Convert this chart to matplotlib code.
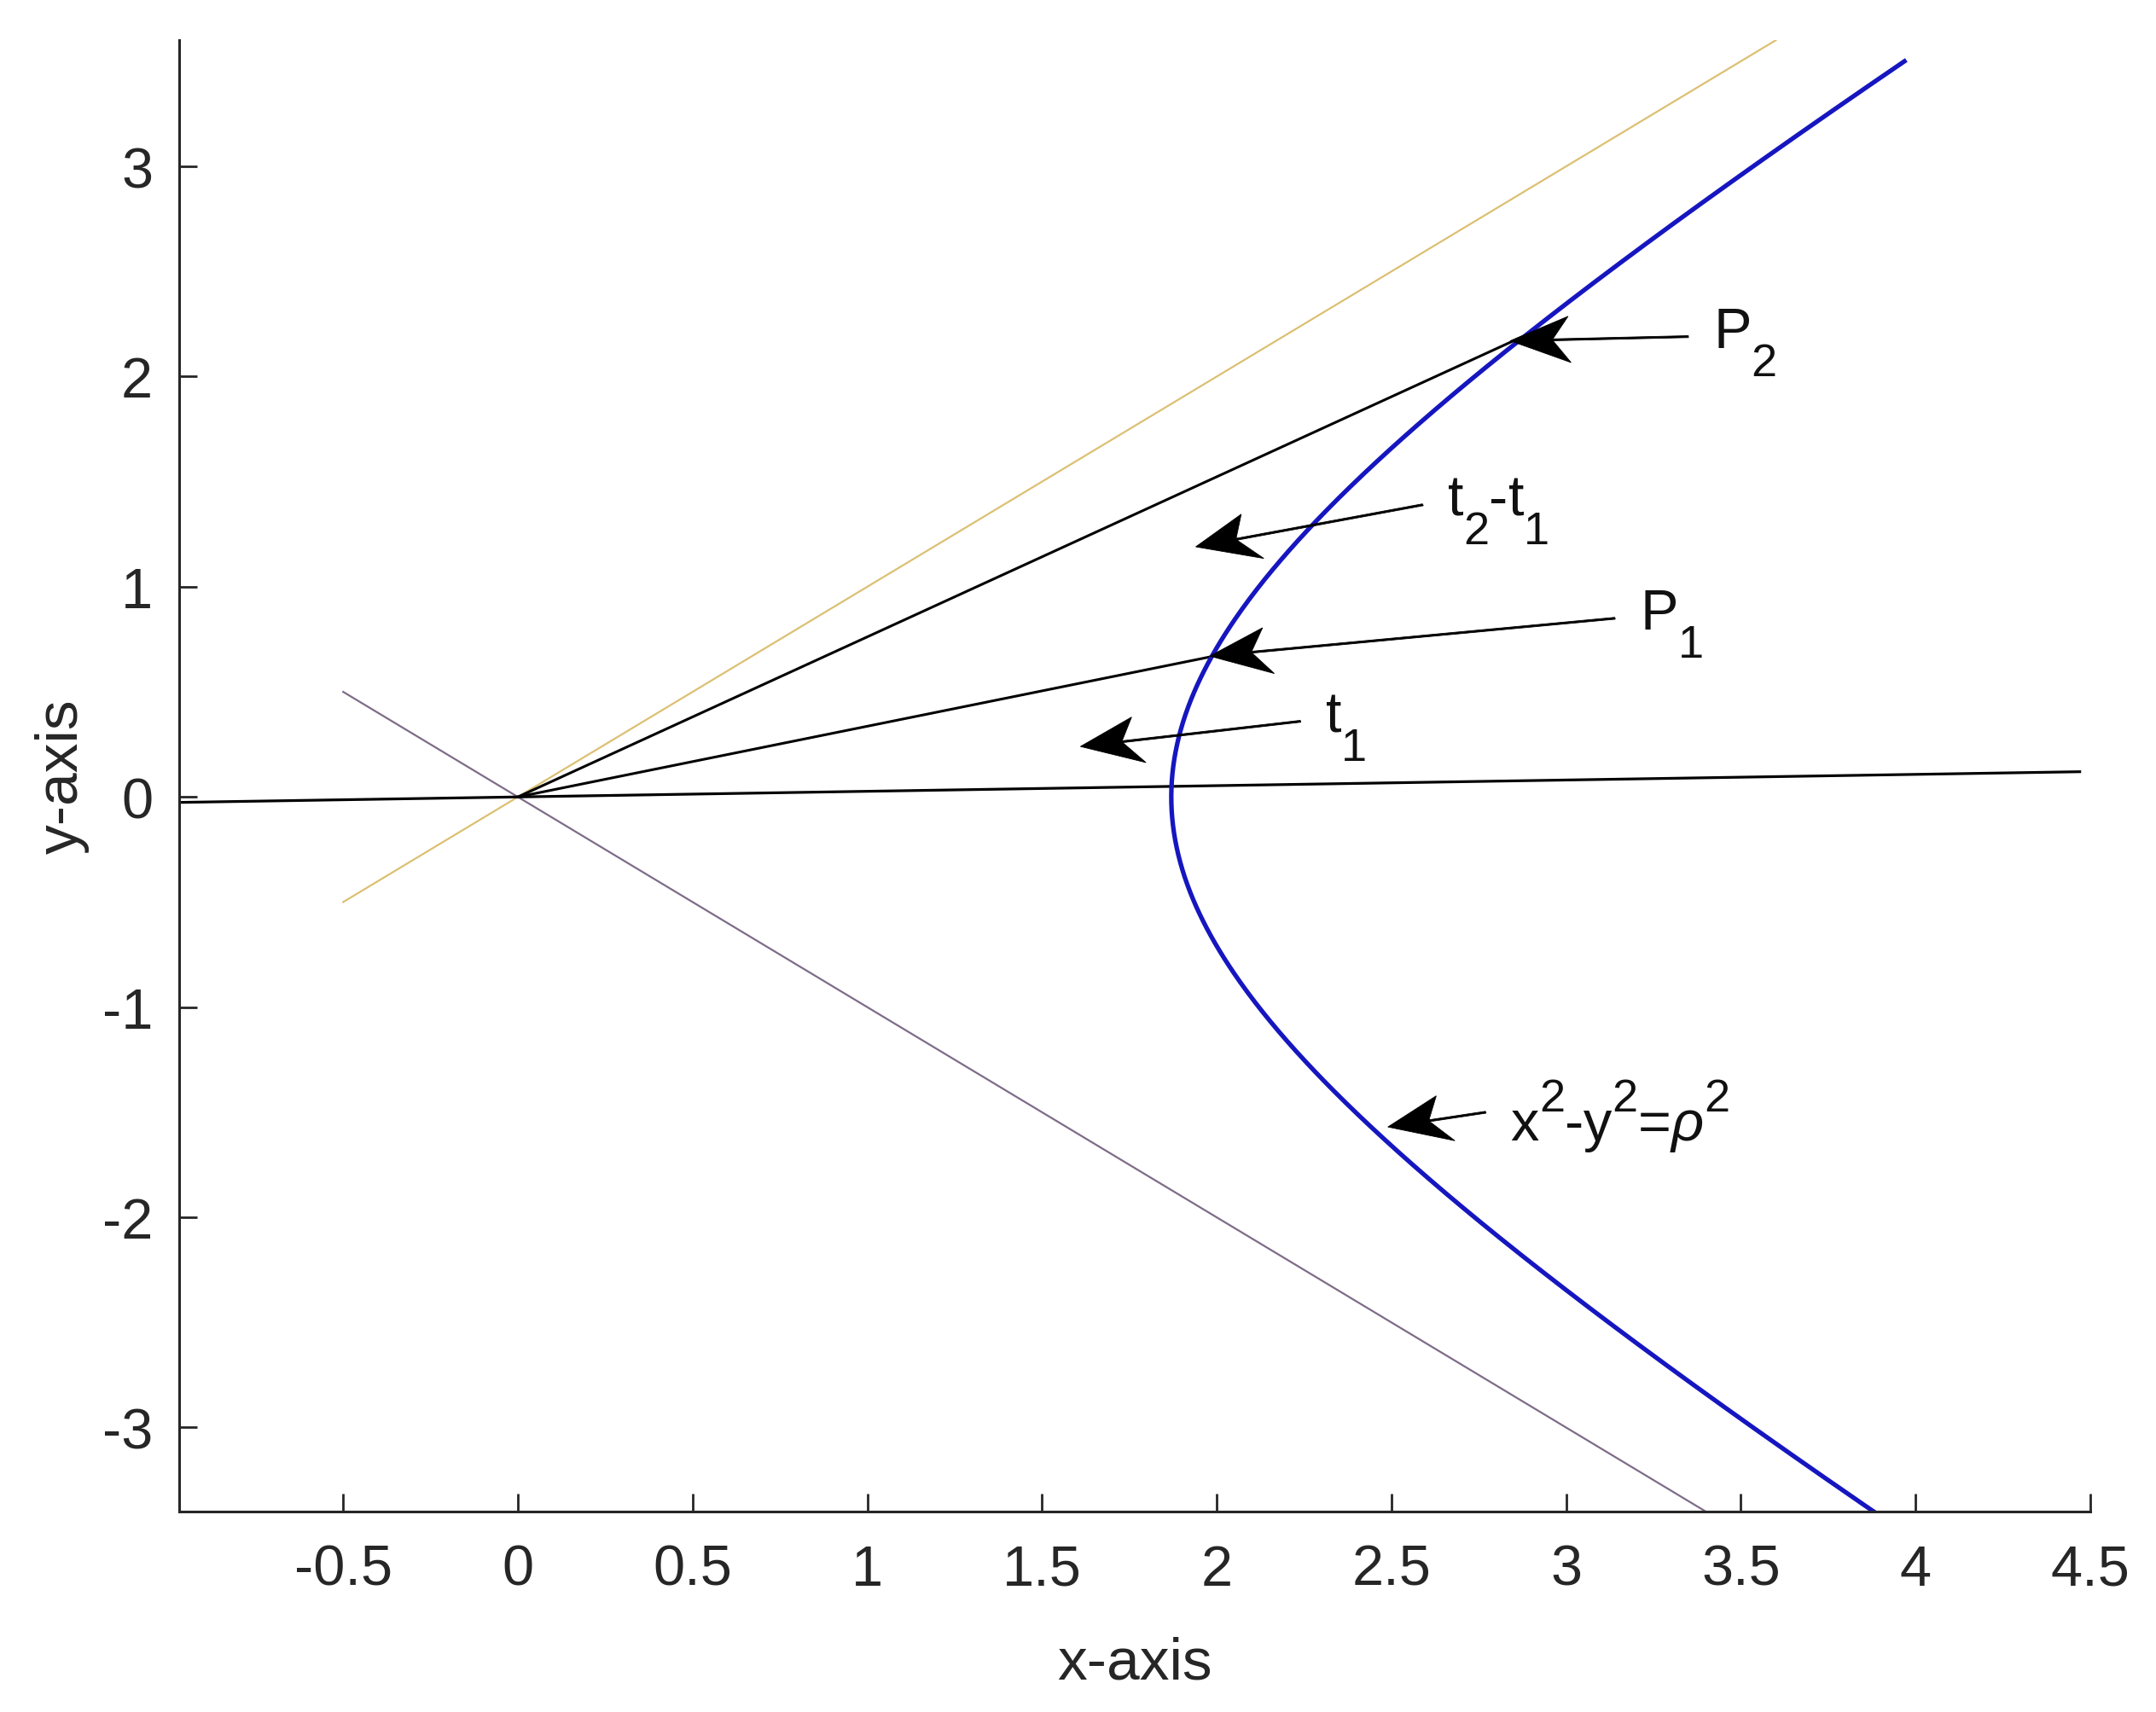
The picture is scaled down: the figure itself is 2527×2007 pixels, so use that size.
import numpy as np
import matplotlib.pyplot as plt

plt.rcParams['font.family'] = ['Liberation Sans', 'DejaVu Sans']

# hyperbola x^2 - y^2 = rho^2
rho = 1.87
y_range = [-3.5, 3.5]
# hyperbolic angles of P1 and P2
t1 = 0.35
t2 = 1.0

# asymptotes y = x and y = -x
asym1_x = [-0.5, 3.6]
asym2_x = [-0.5, 3.4]
# the near-horizontal ray through the origin
ray0_x = [-0.97, 4.47]
ray0_y = [-0.026, 0.12]

# annotation arrows: label pieces (text, kind), tail, head
labels = [
    [('P', 'n'), ('2', 'sub')],
    [('t', 'n'), ('2', 'sub'), ('-', 'n'), ('t', 'n'), ('1', 'sub')],
    [('P', 'n'), ('1', 'sub')],
    [('t', 'n'), ('1', 'sub')],
    [('x', 'n'), ('2', 'sup'), ('-', 'n'), ('y', 'n'), ('2', 'sup'), ('=', 'n'),
     ('\u03c1', 'it'), ('2', 'sup')],
]
tail_x = [3.35, 2.59, 3.14, 2.24, 2.77]
tail_y = [2.19, 1.39, 0.85, 0.36, -1.50]
head_x = [2.84, 1.94, 1.98, 1.61, 2.49]
head_y = [2.17, 1.19, 0.67, 0.24, -1.57]
base_off = [-8.6, -8.6, -8.6, -8.6, -23.0]

xticks = [-0.5, 0, 0.5, 1, 1.5, 2, 2.5, 3, 3.5, 4, 4.5]
xtick_labels = ['-0.5', '0', '0.5', '1', '1.5', '2', '2.5', '3', '3.5', '4', '4.5']
yticks = [-3, -2, -1, 0, 1, 2, 3]
ytick_labels = ['-3', '-2', '-1', '0', '1', '2', '3']

fig = plt.figure(figsize=(25.27, 20.08), dpi=100)
ax = fig.add_axes([0.083, 0.117, 0.8865, 0.859])
ax.set_xlim(-0.97, 4.5)
ax.set_ylim(-3.4, 3.6)
renderer = fig.canvas.get_renderer()

yy = np.linspace(y_range[0], y_range[1], 600)
xx = np.sqrt(rho**2 + yy**2)

# P1, P2 on the hyperbola
p1 = (rho * np.cosh(t1), rho * np.sinh(t1))
p2 = (rho * np.cosh(t2), rho * np.sinh(t2))

ax.plot(asym1_x, asym1_x, color='#dcc073', lw=1.6)
ax.plot(asym2_x, [-v for v in asym2_x], color='#7e6c88', lw=1.6)
ax.plot(ray0_x, ray0_y, color='k', lw=2.3)
ax.plot([0, p1[0]], [0, p1[1]], color='k', lw=2.2)
ax.plot([0, p2[0]], [0, p2[1]], color='k', lw=2.2)
ax.plot(xx, yy, color='#1616c0', lw=3.8)
ax.set_xlim(-0.97, 4.5)
ax.set_ylim(-3.4, 3.6)


def draw_label(x, y, pieces, base):
    # MATLAB-like tex: big subscript drop / superscript rise
    dx = 21.0
    for s, kind in pieces:
        style = 'normal'
        if kind == 'sub':
            size, dy = 39, base - 24.0
        elif kind == 'sup':
            size, dy = 39, base + 24.5
        else:
            size, dy = 48, base
            if kind == 'it':
                style = 'italic'
        t = ax.annotate(s, xy=(x, y), xytext=(dx, dy), textcoords='offset points',
                        fontsize=size, fontstyle=style, ha='left', va='baseline',
                        color='#111111', annotation_clip=False)
        bb = t.get_window_extent(renderer)
        dx += bb.width * 72.0 / fig.dpi


for i in range(len(labels)):
    ax.arrow(tail_x[i], tail_y[i], head_x[i] - tail_x[i], head_y[i] - tail_y[i],
             width=0.009, head_width=0.22, head_length=0.17, overhang=0.28,
             length_includes_head=True, fc='k', ec='k', lw=0.6, zorder=5)
    draw_label(tail_x[i], tail_y[i], labels[i], base_off[i])

ax.set_xticks(xticks)
ax.set_xticklabels(xtick_labels)
ax.set_yticks(yticks)
ax.set_yticklabels(ytick_labels)
ax.tick_params(direction='in', length=15, width=2, labelsize=48, colors='#262626')
ax.tick_params(axis='x', pad=27)
ax.tick_params(axis='y', pad=22)

for s in ['top', 'right']:
    ax.spines[s].set_visible(False)
for s in ['left', 'bottom']:
    ax.spines[s].set_linewidth(2.2)
    ax.spines[s].set_color('#262626')

ax.set_xlabel('x-axis', fontsize=50, color='#262626')
ax.set_ylabel('y-axis', fontsize=50, color='#262626')
ax.xaxis.set_label_coords(0.5, -0.103)
ax.yaxis.set_label_coords(-0.061, 0.5)
ax.xaxis.label.set_verticalalignment('center')
ax.yaxis.label.set_verticalalignment('center')

fig.savefig('out.png', dpi=100, facecolor='white')
